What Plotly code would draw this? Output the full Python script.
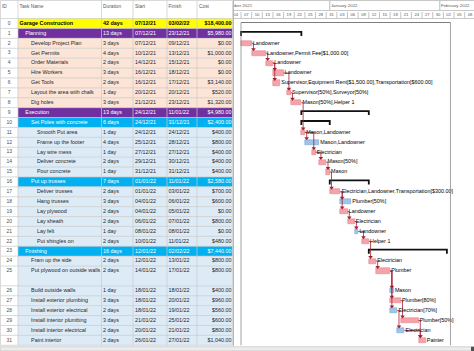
import plotly.graph_objects as go
import pandas as pd

# ---------------- data ----------------
task_ids = list(range(32))
task_names = ["Garage Construction", "Planning", "Develop Project Plan", "Get Permits", "Order Materials",
              "Hire Workers", "Get Tools", "Layout the area with chalk", "Dig holes", "Execution",
              "Set Poles with concrete", "Smooth Put area", "Frame up the footer", "Lay wire mess",
              "Deliver concrete", "Pour concrete", "Put up trusses", "Deliver trusses", "Hang trusses",
              "Lay plywood", "Lay sheath", "Lay felt", "Put shingles on", "Finishing", "Fram up the side",
              "Put plywood on outside walls", "Build outside walls", "Install exterior plumbing",
              "Install exterior electrical", "Install interior plumbing", "Install interior electrical",
              "Paint interior"]
outline_levels = [0, 1, 2, 2, 2, 2, 2, 2, 2, 1, 2, 3, 3, 3, 3, 3, 2, 3, 3, 3, 3, 3, 3, 1, 2, 2, 2, 2, 2, 2, 2, 2]
durations = ["42 days", "13 days", "3 days", "4 days", "2 days", "3 days", "2 days", "1 day", "3 days",
             "13 days", "6 days", "1 day", "4 days", "1 day", "2 days", "1 day", "7 days", "2 days",
             "3 days", "2 days", "2 days", "1 day", "2 days", "16 days", "2 days", "2 days", "1 day",
             "3 days", "2 days", "3 days", "2 days", "2 days"]
starts = ["07/12/21", "07/12/21", "07/12/21", "10/12/21", "14/12/21", "16/12/21", "16/12/21", "20/12/21",
          "21/12/21", "24/12/21", "24/12/21", "24/12/21", "25/12/21", "27/12/21", "29/12/21", "31/12/21",
          "01/01/22", "01/01/22", "04/01/22", "04/01/22", "06/01/22", "08/01/22", "10/01/22", "12/01/22",
          "12/01/22", "14/01/22", "18/01/22", "18/01/22", "18/01/22", "21/01/22", "20/01/22", "26/01/22"]
finishes = ["03/02/22", "23/12/21", "09/12/21", "13/12/21", "15/12/21", "18/12/21", "17/12/21", "20/12/21",
            "23/12/21", "11/01/22", "31/12/21", "24/12/21", "28/12/21", "27/12/21", "30/12/21", "31/12/21",
            "11/01/22", "03/01/22", "06/01/22", "05/01/22", "07/01/22", "08/01/22", "11/01/22", "02/02/22",
            "13/01/22", "17/01/22", "18/01/22", "20/01/22", "19/01/22", "25/01/22", "21/01/22", "27/01/22"]
costs = ["$18,400.00", "$5,980.00", "$0.00", "$1,000.00", "$0.00", "$0.00", "$3,140.00", "$520.00",
         "$1,320.00", "$4,980.00", "$2,400.00", "$400.00", "$800.00", "$400.00", "$400.00", "$400.00",
         "$2,580.00", "$700.00", "$600.00", "$0.00", "$800.00", "$0.00", "$480.00", "$7,440.00",
         "$800.00", "$800.00", "$400.00", "$960.00", "$560.00", "$600.00", "$800.00", "$1,040.00"]
resources = ["", "", "Landowner", "Landowner,Permit Fee[$1,000.00]", "Landowner", "Landowner",
             "Supervisor,Equipment Rent[$1,500.00],Transportation[$600.00]", "Supervisor[50%],Surveyor[50%]",
             "Mason[50%],Helper 1", "", "", "Mason,Landowner", "Mason,Landowner", "Electrician", "Mason[50%]",
             "Mason", "", "Electrician,Landowner,Transportation[$300.00]", "Plumber[50%]", "Landowner",
             "Electrician", "Landowner", "Helper 1", "", "Electrician", "Plumber", "Mason", "Plumber[80%]",
             "Electrician[70%]", "Plumber[50%]", "Electrician", "Painter"]
row_styles = ["project", "phase", "plan", "plan", "plan", "plan", "plan", "plan", "plan", "phase",
              "group", "task", "task", "task", "task", "task", "group", "task", "task", "task", "task",
              "task", "task", "group", "task", "task", "task", "task", "task", "task", "task", "task"]
critical = [True, True, True, True, True, True, True, True, True, True, True, True, False, True, True, True,
            True, True, False, True, True, False, True, True, True, True, False, True, False, True, False, True]
predecessors = {3: [2], 4: [3], 5: [4], 6: [4], 7: [5], 8: [7], 11: [8], 12: [11], 13: [11], 14: [13],
                15: [14], 17: [15], 18: [17], 19: [17], 20: [19], 21: [20], 22: [21], 24: [22], 25: [24],
                26: [25], 27: [25], 28: [25], 29: [27], 30: [28], 31: [29, 30]}
row_line_counts = [1] * 25 + [2] + [1] * 6
table_headers = ["ID", "Task Name", "Duration", "Start", "Finish", "Cost"]
month_labels = ["December 2021", "January 2022", "February 2022"]

# ---------------- layout constants ----------------
W, H = 474, 351
FONT = "Liberation Sans, Arial, sans-serif"
FS = 5.4
ROW0 = 23.5
SLOT = 9.9
SPLIT = 234
TABLE_RIGHT = 232.5
col_edges = [0.5, 18, 101.5, 133, 167, 197, TABLE_RIGHT]
PX_PER_DAY = 3.55
X_START_PX = 241

fill_map = {"project": "#ffff00", "phase": "#7030a0", "group": "#00b0f0", "plan": "#fce4d6", "task": "#ddebf7"}
txt_map = {"project": "#000000", "phase": "#ffffff", "group": "#ffffff", "plan": "#262626", "task": "#262626"}
GRID = "#c8c8c8"
PINK, PINK_L = "#f4a3aa", "#e07d87"
BLUE, BLUE_L = "#9fc5ea", "#6f9fd2"
LINK = "#a3202e"

# row vertical positions (pixel units of the y axis)
centers, tops, bottoms = [], [], []
slot = 0
for h in row_line_counts:
    c = ROW0 + slot * SLOT
    centers.append(c)
    tops.append(c - SLOT / 2)
    bottoms.append(c - SLOT / 2 + h * SLOT)
    slot += h
TABLE_BOTTOM = bottoms[-1]

start_dt = pd.to_datetime(starts, format="%d/%m/%y")
finish_dt = pd.to_datetime(finishes, format="%d/%m/%y")
end_dt = finish_dt + pd.Timedelta(days=1)
proj_start = start_dt[0]
proj_end = end_dt[0]
day = pd.Timedelta(days=1)
x2_range = [proj_start - day * ((X_START_PX - SPLIT) / PX_PER_DAY),
            proj_start + day * ((W - X_START_PX) / PX_PER_DAY)]

fig = go.Figure()
shapes = []

# ---------------- table fills & grid ----------------
for i, st in enumerate(row_styles):
    shapes.append(dict(type="rect", xref="x", yref="y", x0=col_edges[1], x1=TABLE_RIGHT,
                       y0=tops[i], y1=bottoms[i], fillcolor=fill_map[st], line_width=0, layer="below"))
hl = [0.5, tops[0]] + bottoms
for yv in hl:
    shapes.append(dict(type="line", xref="x", yref="y", x0=0.5, x1=TABLE_RIGHT, y0=yv, y1=yv,
                       line=dict(color=GRID, width=0.7)))
for xv in col_edges:
    shapes.append(dict(type="line", xref="x", yref="y", x0=xv, x1=xv, y0=0.5, y1=TABLE_BOTTOM,
                       line=dict(color=GRID, width=0.7)))

# header texts
hx = [2, 19.5, 103, 135, 168.5, 199]
fig.add_trace(go.Scatter(x=hx, y=[6.5] * 6, text=table_headers, mode="text", textposition="middle right",
                         textfont=dict(family=FONT, size=4.8, color="#595959"), xaxis="x", yaxis="y",
                         hoverinfo="skip", showlegend=False))

txt_colors = [txt_map[s] for s in row_styles]


def fmt(vals):
    return [("<b>%s</b>" % v) if row_styles[i] == "project" else v for i, v in enumerate(vals)]


# ID column
fig.add_trace(go.Scatter(x=[9.25] * 32, y=centers, text=[str(t) for t in task_ids], mode="text",
                         textposition="middle center", textfont=dict(family=FONT, size=FS - 0.4, color="#505050"),
                         xaxis="x", yaxis="y", hoverinfo="skip", showlegend=False))
# task name column (indented by outline level)
fig.add_trace(go.Scatter(x=[19.5 + 5.8 * lv for lv in outline_levels], y=centers, text=fmt(task_names),
                         mode="text", textposition="middle right",
                         textfont=dict(family=FONT, size=FS, color=txt_colors),
                         xaxis="x", yaxis="y", hoverinfo="skip", showlegend=False))
for xc, vals in [(103, durations), (135, starts), (168.5, finishes)]:
    fig.add_trace(go.Scatter(x=[xc] * 32, y=centers, text=fmt(vals), mode="text", textposition="middle right",
                             textfont=dict(family=FONT, size=FS, color=txt_colors),
                             xaxis="x", yaxis="y", hoverinfo="skip", showlegend=False))
fig.add_trace(go.Scatter(x=[231.5] * 32, y=centers, text=fmt(costs), mode="text", textposition="middle left",
                         textfont=dict(family=FONT, size=FS, color=txt_colors),
                         xaxis="x", yaxis="y", hoverinfo="skip", showlegend=False))

# ---------------- gantt header ----------------
months = pd.date_range(proj_start.replace(day=1), x2_range[1], freq="MS")
for m in months:
    shapes.append(dict(type="line", xref="x2", yref="y", x0=m, x1=m, y0=1, y1=10,
                       line=dict(color="#9a9a9a", width=0.7)))
fig.add_trace(go.Scatter(x=[m + pd.Timedelta(hours=8) for m in months], y=[5.5] * len(months),
                         text=month_labels[:len(months)], mode="text", textposition="middle right",
                         textfont=dict(family=FONT, size=4.4, color="#595959"), xaxis="x2", yaxis="y",
                         hoverinfo="skip", showlegend=False, cliponaxis=True))
minor = pd.date_range(proj_start - 3 * day, x2_range[1], freq="3D")
for t in minor:
    shapes.append(dict(type="line", xref="x2", yref="y", x0=t, x1=t, y0=12, y1=18,
                       line=dict(color="#9a9a9a", width=0.6)))
fig.add_trace(go.Scatter(x=[t + 1.5 * day for t in minor], y=[15] * len(minor),
                         text=[t.strftime("%d") for t in minor], mode="text", textposition="middle center",
                         textfont=dict(family=FONT, size=4.2, color="#595959"), xaxis="x2", yaxis="y",
                         hoverinfo="skip", showlegend=False, cliponaxis=True))
for yv in [0.5, 10.5, 18.5]:
    shapes.append(dict(type="line", xref="paper", yref="y", x0=SPLIT / W, x1=1, y0=yv, y1=yv,
                       line=dict(color="#b0b0b0", width=0.7)))

# project start / finish lines
for d in [proj_start, proj_end]:
    shapes.append(dict(type="line", xref="x2", yref="y", x0=d, x1=d, y0=centers[0] - 1, y1=TABLE_BOTTOM,
                       line=dict(color="#8c8c8c", width=0.8)))
shapes.append(dict(type="line", xref="x2", yref="y", x0=proj_start, x1=proj_end, y0=centers[0] - 1,
                   y1=centers[0] - 1, line=dict(color="#7f7f7f", width=1)))

# ---------------- summary brackets ----------------
bx, by = [], []
for i, st in enumerate(row_styles):
    if st in ("phase", "group"):
        c = centers[i]
        bx += [start_dt[i], start_dt[i], end_dt[i], end_dt[i], None]
        by += [c + 2.5, c - 1.5, c - 1.5, c + 2.5, None]
fig.add_trace(go.Scatter(x=bx, y=by, mode="lines", line=dict(color="#111111", width=1.8),
                         xaxis="x2", yaxis="y", hoverinfo="skip", showlegend=False))

# ---------------- task bars ----------------
task_rows = [i for i, st in enumerate(row_styles) if st in ("plan", "task")]
fig.add_trace(go.Bar(
    orientation="h", xaxis="x2", yaxis="y",
    base=[start_dt[i] for i in task_rows],
    x=[(end_dt[i] - start_dt[i]).total_seconds() * 1000 for i in task_rows],
    y=[centers[i] for i in task_rows], width=5.2,
    marker=dict(color=[PINK if critical[i] else BLUE for i in task_rows],
                line=dict(color=[PINK_L if critical[i] else BLUE_L for i in task_rows], width=0.5)),
    hoverinfo="skip", showlegend=False))

# ---------------- dependency links ----------------
lx, ly, ax, ay = [], [], [], []
for s, plist in predecessors.items():
    for p in plist:
        xs = start_dt[s] + 0.5 * day
        xe = end_dt[p]
        lx += [xe, xs, xs, None]
        ly += [centers[p], centers[p], centers[s] - 4.2, None]
        ax.append(xs)
        ay.append(centers[s] - 4.0)
fig.add_trace(go.Scatter(x=lx, y=ly, mode="lines", line=dict(color=LINK, width=0.8),
                         xaxis="x2", yaxis="y", hoverinfo="skip", showlegend=False))
fig.add_trace(go.Scatter(x=ax, y=ay, mode="markers", marker=dict(symbol="triangle-down", size=4, color=LINK),
                         xaxis="x2", yaxis="y", hoverinfo="skip", showlegend=False))

# ---------------- resource labels ----------------
lab_rows = [i for i in task_rows if resources[i]]
fig.add_trace(go.Scatter(x=[end_dt[i] + 0.35 * day for i in lab_rows], y=[centers[i] for i in lab_rows],
                         text=[resources[i] for i in lab_rows], mode="text", textposition="middle right",
                         textfont=dict(family=FONT, size=FS, color="#000000"), xaxis="x2", yaxis="y",
                         hoverinfo="skip", showlegend=False, cliponaxis=True))

# splitter & bottom scroll band
shapes.append(dict(type="line", xref="paper", yref="y", x0=(SPLIT - 0.5) / W, x1=(SPLIT - 0.5) / W,
                   y0=0, y1=TABLE_BOTTOM + 1, line=dict(color="#a6a6a6", width=0.8)))
shapes.append(dict(type="rect", xref="paper", yref="y", x0=0, x1=1, y0=TABLE_BOTTOM + 1.5, y1=H,
                   fillcolor="#ececec", line=dict(color="#bdbdbd", width=0.6)))
shapes.append(dict(type="rect", xref="paper", yref="y", x0=(W - 3) / W, x1=1, y0=TABLE_BOTTOM + 1.5, y1=H,
                   fillcolor="#505050", line_width=0))

fig.update_layout(
    width=W, height=H, margin=dict(l=0, r=0, t=0, b=0),
    paper_bgcolor="white", plot_bgcolor="white", showlegend=False,
    shapes=shapes, bargap=0,
    xaxis=dict(domain=[0, SPLIT / W], range=[0, SPLIT], visible=False, fixedrange=True),
    xaxis2=dict(domain=[SPLIT / W, 1], type="date", range=x2_range, visible=False, anchor="y",
                fixedrange=True),
    yaxis=dict(domain=[0, 1], range=[H, 0], visible=False, fixedrange=True),
)
fig.write_html("out.html")
